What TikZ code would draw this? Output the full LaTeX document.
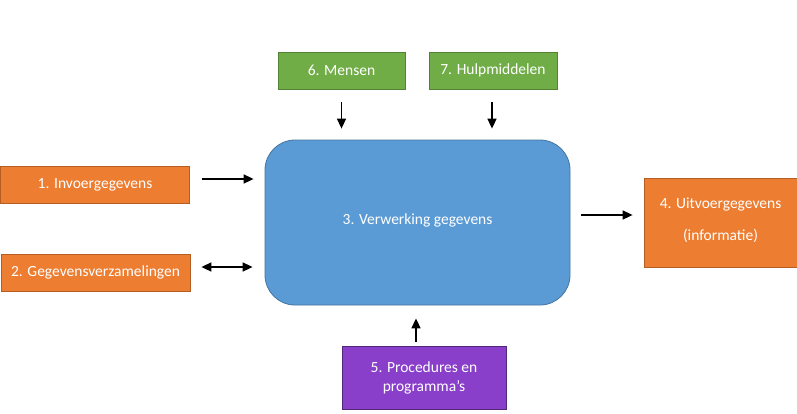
\documentclass[tikz,border=0pt]{standalone}
\usepackage{fontspec}
\setmainfont{Carlito}
\usetikzlibrary{positioning,arrows.meta,calc}
\definecolor{oranje}{RGB}{237,125,49}
\definecolor{groen}{RGB}{112,173,71}
\definecolor{blauw}{RGB}{91,155,213}
\definecolor{paars}{RGB}{137,63,201}

\begin{document}
\begin{tikzpicture}[x=1pt, y=-1pt, font=\fontsize{15.5}{19}\selectfont,
  blok/.style={draw, line width=0.8pt, text=white, align=center, inner sep=2pt},
  invoer/.style={blok, fill=oranje, draw=oranje!75!black},
  middel/.style={blok, fill=groen, draw=groen!75!black},
  pijl/.style={-{Triangle[length=10pt,width=9pt]}, line width=1.6pt}]
  \useasboundingbox (0,0) rectangle (797,413);
  \node[invoer, minimum width=189pt, minimum height=37pt] (in) at (95,184.5)
    {1. Invoergegevens};
  \node[invoer, minimum width=189pt, minimum height=37pt] (db) at (95.5,272.5)
    {2. Gegevensverzamelingen};
  \node[blok, fill=blauw, draw=blauw!75!black, rounded corners=30pt,
    minimum width=305pt, minimum height=165pt] (verw) at (417.5,222.5)
    {\raisebox{6pt}{3. Verwerking gegevens}};
  \node[invoer, minimum width=153pt, minimum height=89pt] (uit) at (720.5,222.5)
    {\raisebox{6pt}{\shortstack{4. Uitvoergegevens\\[15pt] (informatie)}}};
  \node[blok, fill=paars, draw=paars!60!black, minimum width=164pt,
    minimum height=63pt] (proc) at (424,377.5)
    {5. Procedures en\\ programma's};
  \node[middel, minimum width=127pt, minimum height=37pt] (mens) at (341.5,70.5)
    {6. Mensen};
  \node[middel, minimum width=128pt, minimum height=37pt] (hulp) at (493,70.5)
    {7. Hulpmiddelen};
  % pijlen naar de verwerking
  \draw[pijl, shorten <=12pt, shorten >=11pt]
    ([yshift=5.5pt]in.east) -- ([yshift=5.5pt]in.east -| verw.west);
  \draw[pijl, {Triangle[length=10pt,width=9pt]}-{Triangle[length=10pt,width=9pt]},
    shorten <=11pt, shorten >=12pt]
    ([yshift=5.5pt]db.east) -- ([yshift=5.5pt]db.east -| verw.west);
  \draw[pijl, shorten <=11pt, shorten >=11pt]
    ([yshift=7.5pt]verw.east) -- ([yshift=7.5pt]uit.west);
  \draw[pijl, shorten <=13pt, shorten >=11pt] (mens.south) -- (mens.south |- verw.north);
  \draw[pijl, shorten <=13pt, shorten >=11pt]
    ([xshift=-1pt]hulp.south) -- ([xshift=-1pt]hulp.south |- verw.north);
  \draw[pijl, shorten <=4pt, shorten >=13pt]
    ([xshift=-8pt]proc.north) -- ([xshift=-8pt]proc.north |- verw.south);
\end{tikzpicture}
\end{document}
